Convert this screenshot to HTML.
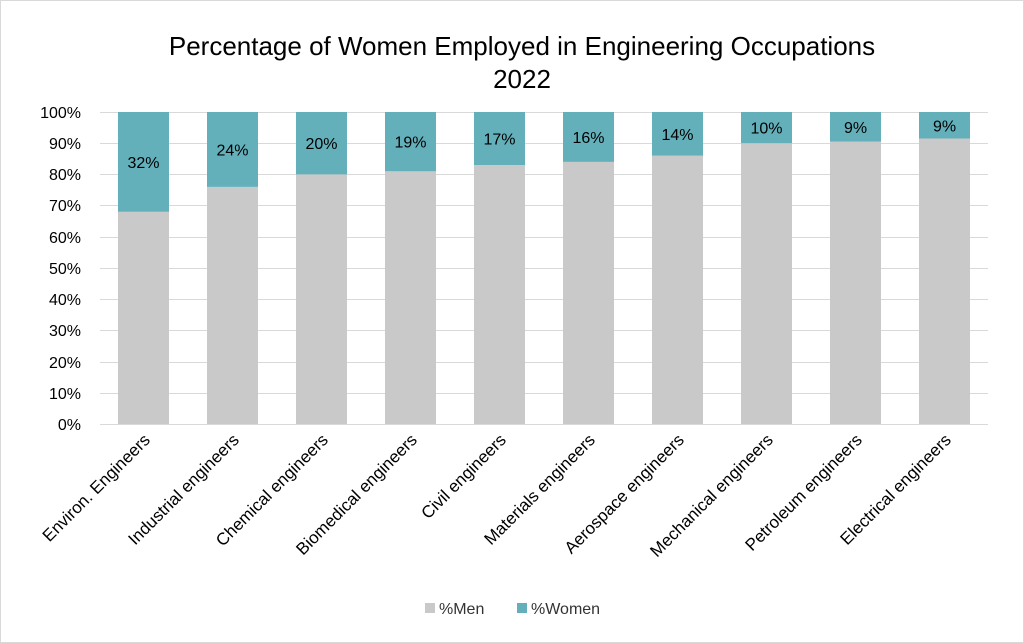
<!DOCTYPE html>
<html><head><meta charset="utf-8"><style>
body{margin:0;background:#fff}
svg{display:block;font-family:"Liberation Sans",sans-serif}
</style></head><body>
<svg width="1024" height="643" xmlns="http://www.w3.org/2000/svg">
<rect x="0.5" y="0.5" width="1023" height="642" fill="#fff" stroke="#d9d9d9"/>
<text x="522" y="55" font-size="26" text-anchor="middle" fill="#000">Percentage of Women Employed in Engineering Occupations</text>
<text x="522" y="88" font-size="26" text-anchor="middle" fill="#000">2022</text>
<g stroke="#d9d9d9" stroke-width="1">
<line x1="100" x2="988" y1="112.5" y2="112.5"/><line x1="100" x2="988" y1="143.5" y2="143.5"/>
<line x1="100" x2="988" y1="174.5" y2="174.5"/><line x1="100" x2="988" y1="205.5" y2="205.5"/>
<line x1="100" x2="988" y1="237.5" y2="237.5"/><line x1="100" x2="988" y1="268.5" y2="268.5"/>
<line x1="100" x2="988" y1="299.5" y2="299.5"/><line x1="100" x2="988" y1="330.5" y2="330.5"/>
<line x1="100" x2="988" y1="362.5" y2="362.5"/><line x1="100" x2="988" y1="393.5" y2="393.5"/>
<line x1="100" x2="988" y1="424.5" y2="424.5"/>
</g>
<g font-size="16" text-anchor="end" fill="#000">
<text x="81" y="118">100%</text><text x="81" y="149">90%</text><text x="81" y="180">80%</text>
<text x="81" y="211">70%</text><text x="81" y="243">60%</text><text x="81" y="274">50%</text>
<text x="81" y="305">40%</text><text x="81" y="336">30%</text><text x="81" y="368">20%</text>
<text x="81" y="399">10%</text><text x="81" y="430">0%</text>
</g>
<g fill="#c9c9c9">
<rect x="118" y="211.8" width="51" height="212.2"/>
<rect x="207" y="186.9" width="51" height="237.1"/>
<rect x="296" y="174.4" width="51" height="249.6"/>
<rect x="385" y="171.3" width="51" height="252.7"/>
<rect x="474" y="165" width="51" height="259"/>
<rect x="563" y="161.9" width="51" height="262.1"/>
<rect x="652" y="155.7" width="51" height="268.3"/>
<rect x="741" y="143.2" width="51" height="280.8"/>
<rect x="830" y="141.6" width="51" height="282.4"/>
<rect x="919" y="138.5" width="51" height="285.5"/>
</g>
<g fill="#63b0bb">
<rect x="118" y="112" width="51" height="99.8"/>
<rect x="207" y="112" width="51" height="74.9"/>
<rect x="296" y="112" width="51" height="62.4"/>
<rect x="385" y="112" width="51" height="59.3"/>
<rect x="474" y="112" width="51" height="53"/>
<rect x="563" y="112" width="51" height="49.9"/>
<rect x="652" y="112" width="51" height="43.7"/>
<rect x="741" y="112" width="51" height="31.2"/>
<rect x="830" y="112" width="51" height="29.6"/>
<rect x="919" y="112" width="51" height="26.5"/>
</g>
<g font-size="16" text-anchor="middle" fill="#000">
<text x="143.5" y="168">32%</text>
<text x="232.5" y="155.5">24%</text>
<text x="321.5" y="149">20%</text>
<text x="410.5" y="147.5">19%</text>
<text x="499.5" y="144.5">17%</text>
<text x="588.5" y="143">16%</text>
<text x="677.5" y="140">14%</text>
<text x="766.5" y="133.5">10%</text>
<text x="855.5" y="133">9%</text>
<text x="944.5" y="131.5">9%</text>
</g>
<g font-size="17" fill="#000" text-anchor="end">
<text transform="translate(151,441) rotate(-45)">Environ. Engineers</text>
<text transform="translate(240,441) rotate(-45)">Industrial engineers</text>
<text transform="translate(329,441) rotate(-45)">Chemical engineers</text>
<text transform="translate(418,441) rotate(-45)">Biomedical engineers</text>
<text transform="translate(507,441) rotate(-45)">Civil engineers</text>
<text transform="translate(596,441) rotate(-45)">Materials engineers</text>
<text transform="translate(685,441) rotate(-45)">Aerospace engineers</text>
<text transform="translate(774,441) rotate(-45)">Mechanical engineers</text>
<text transform="translate(863,441) rotate(-45)">Petroleum engineers</text>
<text transform="translate(952,441) rotate(-45)">Electrical engineers</text>
</g>
<rect x="425" y="603" width="10" height="10" fill="#c9c9c9"/>
<text x="439" y="614" font-size="16" fill="#333">%Men</text>
<rect x="517" y="603" width="10" height="10" fill="#63b0bb"/>
<text x="531" y="614" font-size="16" fill="#333">%Women</text>
</svg>
</body></html>
